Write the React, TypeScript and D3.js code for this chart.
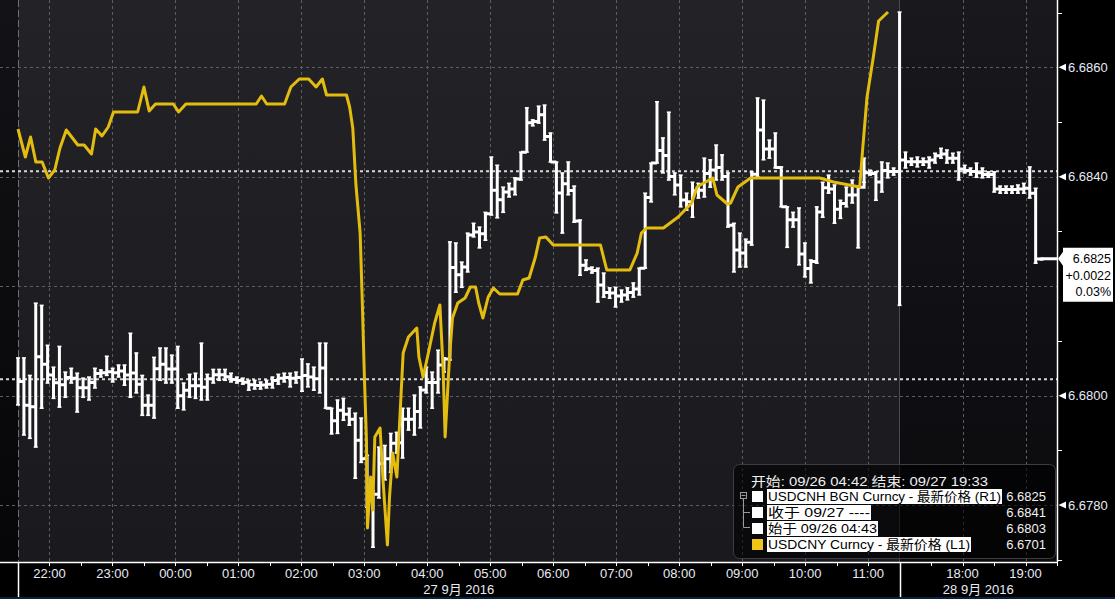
import React, { useEffect, useRef } from "react";
import * as d3 from "d3";

// ---------- data ----------
const hourLabels = ["22:00", "23:00", "00:00", "01:00", "02:00", "03:00", "04:00", "05:00", "06:00", "07:00", "08:00", "09:00", "10:00", "11:00", "18:00", "19:00"];
const dateLabels = ["27 9月 2016", "28 9月 2016"];
const dateLabelTimes = ["04:30", "18:15"];

const rightTicks = [6.678, 6.68, 6.682, 6.684, 6.686];
const rightMinorTicks = [6.677, 6.679, 6.681, 6.683, 6.685, 6.687];

// USDCNH bars (high / low), one bar every 14/149 h of trading time
const cnhHigh = [
  6.68069, 6.68069, 6.68037, 6.68169, 6.68165, 6.68092, 6.68052, 6.6809, 6.68043, 6.6805,
  6.68041, 6.68032, 6.68034, 6.6805, 6.68047, 6.68072, 6.6805, 6.68056, 6.68056, 6.68114,
  6.68078, 6.68037, 6.68001, 6.6807, 6.68087, 6.68087, 6.68074, 6.6809, 6.68023, 6.68039,
  6.68041, 6.68096, 6.68039, 6.68048, 6.68048, 6.68048, 6.68041, 6.68034, 6.68032, 6.68028,
  6.68028, 6.68025, 6.68028, 6.68034, 6.68039, 6.68041, 6.68041, 6.68043, 6.68067, 6.68058,
  6.68052, 6.68096, 6.68096, 6.67977, 6.67992, 6.67995, 6.67977, 6.67968, 6.67959, 6.67891,
  6.67827, 6.67906, 6.67909, 6.67931, 6.67933, 6.67977, 6.67977, 6.68001, 6.68016, 6.68052,
  6.68043, 6.68083, 6.68069, 6.68281, 6.68279, 6.68244, 6.68297, 6.68315, 6.68308, 6.68335,
  6.68436, 6.68421, 6.68381, 6.68388, 6.68398, 6.68445, 6.68526, 6.68504, 6.68529, 6.68531,
  6.6848, 6.68427, 6.68407, 6.68427, 6.68383, 6.68321, 6.68248, 6.68235, 6.68233, 6.68224,
  6.68197, 6.68198, 6.68193, 6.68197, 6.68206, 6.68233, 6.6837, 6.68425, 6.68537, 6.68471,
  6.68518, 6.68407, 6.68403, 6.6837, 6.6839, 6.68388, 6.68434, 6.68431, 6.68458, 6.6844,
  6.68407, 6.68315, 6.68297, 6.68286, 6.68409, 6.68544, 6.6854, 6.68467, 6.6848, 6.68418,
  6.68345, 6.68335, 6.68343, 6.68279, 6.68248, 6.68345, 6.6839, 6.68403, 6.68385, 6.68357,
  6.68381, 6.68394, 6.68381, 6.68434, 6.68412, 6.68409, 6.68427, 6.68425, 6.68416, 6.68701,
  6.68445, 6.68434, 6.68436, 6.68434, 6.68436, 6.68443, 6.68452, 6.68449, 6.68443, 6.68445,
  6.68421, 6.68416, 6.68425, 6.68416, 6.68409, 6.68409, 6.68383, 6.68383, 6.68383, 6.68385,
  6.68388, 6.68418, 6.68379, 6.68251,
];
const cnhLow = [
  6.67983, 6.67928, 6.67922, 6.67906, 6.67977, 6.68023, 6.67995, 6.67979, 6.67997, 6.68023,
  6.6797, 6.67997, 6.67992, 6.68014, 6.68034, 6.68037, 6.68025, 6.68034, 6.68019, 6.67997,
  6.68005, 6.67964, 6.67964, 6.67959, 6.68028, 6.68023, 6.68023, 6.67977, 6.67974, 6.67997,
  6.67995, 6.67992, 6.67992, 6.68023, 6.68028, 6.68028, 6.68025, 6.68023, 6.68021, 6.6801,
  6.68012, 6.68012, 6.68014, 6.68014, 6.68021, 6.68025, 6.68016, 6.68023, 6.68008, 6.68016,
  6.6801, 6.68005, 6.67977, 6.6793, 6.67931, 6.67955, 6.67946, 6.67849, 6.67878, 6.67796,
  6.67723, 6.67813, 6.67846, 6.6786, 6.67895, 6.67886, 6.67937, 6.67928, 6.67941, 6.68005,
  6.67977, 6.68005, 6.68043, 6.68065, 6.68189, 6.68198, 6.68226, 6.6829, 6.6827, 6.68284,
  6.6833, 6.68325, 6.68335, 6.68363, 6.68367, 6.68394, 6.68445, 6.68493, 6.68498, 6.68467,
  6.68427, 6.68334, 6.68297, 6.68367, 6.68317, 6.6822, 6.68229, 6.68224, 6.68171, 6.6818,
  6.68178, 6.68162, 6.68171, 6.68175, 6.6818, 6.68184, 6.68233, 6.68354, 6.68425, 6.68407,
  6.68394, 6.68367, 6.68345, 6.68339, 6.68326, 6.68361, 6.68363, 6.68381, 6.68394, 6.68394,
  6.68308, 6.68226, 6.68235, 6.68235, 6.68275, 6.684, 6.68431, 6.68434, 6.68416, 6.68345,
  6.68271, 6.68308, 6.68239, 6.68217, 6.68206, 6.68242, 6.68326, 6.6837, 6.68315, 6.68324,
  6.68345, 6.68352, 6.6827, 6.6839, 6.68403, 6.68357, 6.68372, 6.68398, 6.68403, 6.68165,
  6.68416, 6.68421, 6.68418, 6.68421, 6.68416, 6.68425, 6.68434, 6.68425, 6.68425, 6.68394,
  6.68407, 6.68403, 6.68399, 6.68398, 6.68399, 6.68372, 6.6837, 6.6837, 6.6837, 6.6837,
  6.6837, 6.68361, 6.68242, 6.68248,
];

// USDCNY (left axis)
const cnyTimes = [
  "21:30", "21:37", "21:42", "21:47", "21:53", "21:59", "22:05", "22:10", "22:16", "22:27",
  "22:33", "22:40", "22:44", "22:50", "22:56", "23:01", "23:24", "23:30", "23:35", "23:41",
  "23:58", "00:03", "00:10", "01:17", "01:22", "01:27", "01:44", "01:50", "01:58", "02:07",
  "02:14", "02:20", "02:24", "02:43", "02:46", "02:49", "02:52", "02:56", "02:58", "03:00",
  "03:02", "03:03", "03:06", "03:08", "03:10", "03:15", "03:18", "03:22", "03:24", "03:27",
  "03:31", "03:37", "03:42", "03:50", "03:52", "03:56", "04:01", "04:07", "04:12", "04:15",
  "04:17", "04:21", "04:24", "04:29", "04:36", "04:41", "04:46", "04:49", "04:53", "04:58",
  "05:03", "05:09", "05:26", "05:31", "05:37", "05:43", "05:47", "05:53", "06:00", "06:45",
  "06:51", "07:13", "07:20", "07:24", "07:29", "07:45", "07:59", "08:12", "08:17", "08:20",
  "08:32", "08:36", "08:46", "08:49", "08:56", "09:08", "10:14", "10:27", "10:52", "10:55",
  "10:59", "11:05", "11:10", "11:19",
];
const cnyValues = [
  6.66892, 6.66864, 6.66884, 6.66859, 6.66859, 6.66843, 6.66851, 6.66873, 6.66891, 6.66876,
  6.66876, 6.66867, 6.66892, 6.66885, 6.66894, 6.66909, 6.66909, 6.66934, 6.6691, 6.66917,
  6.66917, 6.66909, 6.66917, 6.66917, 6.66925, 6.66917, 6.66917, 6.66934, 6.66942, 6.66942,
  6.66934, 6.66942, 6.66926, 6.66926, 6.66914, 6.66893, 6.66836, 6.66788, 6.66721, 6.66646,
  6.66581, 6.66493, 6.66544, 6.66511, 6.66584, 6.66593, 6.66538, 6.66476, 6.66524, 6.66568,
  6.66544, 6.66668, 6.66684, 6.66693, 6.66664, 6.66644, 6.66668, 6.66698, 6.66716, 6.66654,
  6.66584, 6.66661, 6.66703, 6.66718, 6.66723, 6.66734, 6.66734, 6.66718, 6.66703, 6.66724,
  6.66733, 6.66727, 6.66727, 6.66741, 6.66743, 6.66764, 6.66783, 6.66784, 6.66776, 6.66776,
  6.66751, 6.66751, 6.66768, 6.66788, 6.66793, 6.66793, 6.66804, 6.66818, 6.66834, 6.66836,
  6.66843, 6.66826, 6.66817, 6.66818, 6.66834, 6.66843, 6.66843, 6.66839, 6.66834, 6.66874,
  6.66924, 6.66964, 6.67, 6.67009,
];

const closeRef = 6.6841;
const openRef = 6.6803;
const lastPrice = 6.6825;
const lastChange = "+0.0022";
const lastPct = "0.03%";

const legendTitle = "开始: 09/26 04:42 结束: 09/27 19:33";
const legendLabels = ["USDCNH BGN Curncy - 最新价格 (R1)", "收于 09/27 ----", "始于 09/26 04:43", "USDCNY Curncy - 最新价格 (L1)"];
const legendValues = ["6.6825", "6.6841", "6.6803", "6.6701"];
const legendSwatch = ["#ffffff", "#ffffff", "#ffffff", "#f0c419"];

// ---------- chart ----------
const FONT = "'Liberation Sans', 'Noto Sans CJK SC', sans-serif";
const YELLOW = "#e3bc10";

function sessionHours(t: string): number {
  const [hh, mm] = t.split(":").map(Number);
  const c = hh + mm / 60;
  if (c >= 21.5) return c - 21.5;
  if (c <= 11.5) return c + 2.5;
  return 14 + (c - 17);
}

export default function App() {
  const ref = useRef<SVGSVGElement>(null);

  useEffect(() => {
    document.body.style.margin = "0";
    const W = 1115, H = 599;
    const PL = 18, PR = 1057, PB = 562;
    const svg = d3.select(ref.current);
    svg.selectAll("*").remove();

    const x = d3.scaleLinear().domain([0, 16.5]).range([PL, PR]);
    const yR = d3.scaleLinear().domain([6.67696, 6.68723]).range([PB, 0]);
    const yL = d3.scaleLinear().domain([6.66459, 6.6702]).range([PB, 1]);
    const xBreak = x(14);
    const STEP = 14 / 149;
    const barX = (i: number) => x(i * STEP);

    const defs = svg.append("defs");
    const grad = (id: string, c1: string, c2: string) => {
      const g = defs.append("linearGradient").attr("id", id).attr("x1", 0).attr("y1", 0).attr("x2", 0).attr("y2", 1);
      g.append("stop").attr("offset", 0).attr("stop-color", c1);
      g.append("stop").attr("offset", 1).attr("stop-color", c2);
    };
    grad("gMain", "#222227", "#1a1a1e");
    grad("gLeft", "#131317", "#060608");
    grad("gRight", "#18181d", "#0a0a0d");

    svg.append("rect").attr("width", W).attr("height", H).attr("fill", "#000");
    svg.append("rect").attr("x", 0).attr("y", 0).attr("width", PL).attr("height", PB).attr("fill", "url(#gLeft)");
    svg.append("rect").attr("x", PL).attr("y", 0).attr("width", xBreak - PL).attr("height", PB).attr("fill", "url(#gMain)");
    svg.append("rect").attr("x", xBreak).attr("y", 0).attr("width", PR - xBreak).attr("height", PB).attr("fill", "url(#gRight)");
    svg.append("rect").attr("x", 0).attr("y", 597).attr("width", W).attr("height", 2).attr("fill", "#0b1e3c");

    // grid
    const grid = svg.append("g").attr("stroke", "#5d5d62").attr("stroke-width", 1).attr("stroke-dasharray", "3,3").attr("shape-rendering", "crispEdges");
    rightTicks.forEach((v) => {
      const yy = Math.round(yR(v)) + 0.5;
      grid.append("line").attr("x1", 0).attr("x2", PR).attr("y1", yy).attr("y2", yy);
    });
    hourLabels.forEach((h) => {
      const xx = Math.round(x(sessionHours(h))) + 0.5;
      grid.append("line").attr("x1", xx).attr("x2", xx).attr("y1", 0).attr("y2", PB);
    });
    svg.append("line").attr("x1", PL + 0.5).attr("x2", PL + 0.5).attr("y1", 0).attr("y2", PB)
      .attr("stroke", "#6e6e74").attr("stroke-dasharray", "7,3").attr("shape-rendering", "crispEdges");
    svg.append("line").attr("x1", xBreak).attr("x2", xBreak).attr("y1", 0).attr("y2", PB)
      .attr("stroke", "#4a4a50").attr("shape-rendering", "crispEdges");

    // reference dotted lines
    [closeRef, openRef].forEach((v) => {
      svg.append("line").attr("x1", 0).attr("x2", PR).attr("y1", yR(v)).attr("y2", yR(v))
        .attr("stroke", "#d6d6d6").attr("stroke-width", 2).attr("stroke-dasharray", "3,3");
    });

    // USDCNH bars
    const wg = svg.append("g");
    let d = "";
    const n = cnhHigh.length;
    for (let i = 0; i < n; i++) {
      const xi = barX(i);
      d += `M${xi},${yR(cnhHigh[i])}V${yR(cnhLow[i])}`;
      if (i < n - 1) {
        const xn = barX(i + 1);
        const lo = Math.max(cnhLow[i], cnhLow[i + 1]);
        const hi = Math.min(cnhHigh[i], cnhHigh[i + 1]);
        if (lo <= hi) {
          const L = yR((lo + hi) / 2);
          d += `M${xi},${L}H${xn}`;
        } else if (cnhLow[i + 1] > cnhHigh[i]) {
          d += `M${xi},${yR(cnhHigh[i])}H${xn}V${yR(cnhLow[i + 1])}`;
        } else {
          d += `M${xi},${yR(cnhLow[i])}H${xn}V${yR(cnhHigh[i + 1])}`;
        }
      }
    }
    d += `M${barX(n - 1)},${yR(lastPrice)}H${PR}`;
    wg.append("path").attr("d", d).attr("fill", "none").attr("stroke", "#fff").attr("stroke-width", 3);
    for (let i = 0; i < n; i++) {
      const xi = barX(i);
      [cnhHigh[i], cnhLow[i]].forEach((v) => {
        wg.append("rect").attr("x", xi - 2).attr("y", yR(v) - 0.75).attr("width", 4).attr("height", 1.5).attr("fill", "#fff");
      });
    }

    // USDCNY line
    const line = d3.line<number>()
      .x((_, i) => x(sessionHours(cnyTimes[i])))
      .y((v) => yL(v));
    svg.append("path").attr("d", line(cnyValues) as string).attr("fill", "none")
      .attr("stroke", YELLOW).attr("stroke-width", 3).attr("stroke-linejoin", "round");

    // last price box geometry
    const ly = yR(lastPrice);
    const boxTop = ly - 11, boxBottom = ly + 43;

    // right axis
    svg.append("line").attr("x1", PR + 0.5).attr("x2", PR + 0.5).attr("y1", 0).attr("y2", PB)
      .attr("stroke", "#fff").attr("stroke-width", 1.5);
    rightMinorTicks.forEach((v) => {
      svg.append("line").attr("x1", PR).attr("x2", PR + 5).attr("y1", Math.round(yR(v)) + 0.5).attr("y2", Math.round(yR(v)) + 0.5)
        .attr("stroke", "#fff");
    });
    rightTicks.forEach((v) => {
      const yy = yR(v);
      if (yy > boxTop - 8 && yy < boxBottom + 8) return; // hidden under the last-price box
      svg.append("path").attr("d", `M${PR + 1.5},${yy}L${PR + 9},${yy - 3.5}L${PR + 9},${yy + 3.5}Z`).attr("fill", "#fff");
      svg.append("text").attr("x", PR + 11).attr("y", yy + 4.7).attr("fill", "#e8ebf5")
        .attr("font-family", FONT).attr("font-size", 13).text(d3.format(".4f")(v));
    });

    // bottom axis
    svg.append("line").attr("x1", 0).attr("x2", PR + 1).attr("y1", PB + 0.5).attr("y2", PB + 0.5)
      .attr("stroke", "#fff").attr("stroke-width", 1.5);
    for (let h = 0.5; h <= 16.5; h += 0.5) {
      if (Math.abs(h - 14) < 1e-6) continue;
      const xx = Math.round(x(h)) + 0.5;
      svg.append("line").attr("x1", xx).attr("x2", xx).attr("y1", PB).attr("y2", PB + 4).attr("stroke", "#fff");
    }
    [PL, xBreak].forEach((xx) => {
      svg.append("line").attr("x1", Math.round(xx) + 0.5).attr("x2", Math.round(xx) + 0.5).attr("y1", PB).attr("y2", 597)
        .attr("stroke", "#fff").attr("stroke-width", 1.5);
    });
    hourLabels.forEach((h) => {
      svg.append("text").attr("x", x(sessionHours(h))).attr("y", 578).attr("text-anchor", "middle")
        .attr("fill", "#e8ebf5").attr("font-family", FONT).attr("font-size", 13).text(h);
    });
    dateLabels.forEach((lab, i) => {
      svg.append("text").attr("x", x(sessionHours(dateLabelTimes[i]))).attr("y", 594).attr("text-anchor", "middle")
        .attr("fill", "#e8ebf5").attr("font-family", FONT).attr("font-size", 13).text(lab);
    });

    // legend
    const lg = svg.append("g");
    lg.append("rect").attr("x", 733.5).attr("y", 464.5).attr("width", 322).attr("height", 94).attr("rx", 6)
      .attr("fill", "rgba(0,0,0,0.6)").attr("stroke", "#3c3c43");
    lg.append("text").attr("x", 751).attr("y", 486).attr("fill", "#f0f0f0").attr("font-family", FONT)
      .attr("font-size", 13).attr("textLength", 237).attr("lengthAdjust", "spacingAndGlyphs").text(legendTitle);
    const labelWidths = [233, 102, 109, 202];
    lg.append("rect").attr("x", 740.5).attr("y", 492.5).attr("width", 6).attr("height", 6).attr("fill", "none").attr("stroke", "#9a9a9a");
    lg.append("line").attr("x1", 741.5).attr("x2", 745.5).attr("y1", 495.5).attr("y2", 495.5).attr("stroke", "#9a9a9a");
    lg.append("path").attr("d", "M743.5,499V527.5H750M743.5,512.5H750").attr("fill", "none").attr("stroke", "#9a9a9a");
    legendLabels.forEach((lab, i) => {
      const top = 489 + i * 16;
      lg.append("rect").attr("x", 752).attr("y", top + 2).attr("width", 11).attr("height", 11).attr("fill", legendSwatch[i]);
      lg.append("rect").attr("x", 767).attr("y", top).attr("width", labelWidths[i] + 2).attr("height", 15).attr("fill", "#fff");
      lg.append("text").attr("x", 768).attr("y", top + 12).attr("fill", "#000").attr("font-family", FONT)
        .attr("font-size", 13).attr("textLength", labelWidths[i]).attr("lengthAdjust", "spacingAndGlyphs").text(lab);
      lg.append("text").attr("x", 1046).attr("y", top + 12).attr("text-anchor", "end").attr("fill", "#f0f0f0")
        .attr("font-family", FONT).attr("font-size", 13).text(legendValues[i]);
    });

    // last price box
    svg.append("path")
      .attr("d", `M${PR + 1},${ly}L${PR + 6},${ly - 7}V${boxTop}H1113V${boxBottom}H${PR + 6}V${ly + 7}Z`)
      .attr("fill", "#fff");
    [d3.format(".4f")(lastPrice), lastChange, lastPct].forEach((t, i) => {
      svg.append("text").attr("x", 1111).attr("y", ly + 4.5 + i * 16.5).attr("text-anchor", "end").attr("fill", "#000")
        .attr("font-family", FONT).attr("font-size", 12.5).text(t);
    });
  }, []);

  return <svg ref={ref} width={1115} height={599} style={{ display: "block" }} />;
}
